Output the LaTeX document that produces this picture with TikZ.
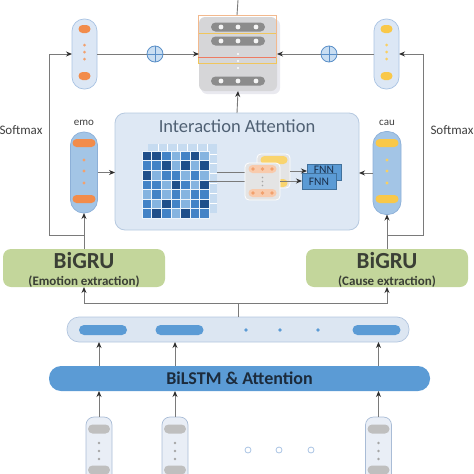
\documentclass[tikz,border=0pt]{standalone}
\usepackage{fontspec}
\setmainfont{Carlito}
\usetikzlibrary{arrows.meta,shapes.misc}
\definecolor{lnc}{HTML}{7A7A7A}
\definecolor{tipc}{HTML}{2E2E2E}
\definecolor{topgray}{HTML}{D6D6D8}
\definecolor{topshadow}{HTML}{E9E9EF}
\definecolor{pillgray}{HTML}{8C8C8C}
\definecolor{orangeline}{HTML}{F2B98E}
\definecolor{redline}{HTML}{EE7B62}
\definecolor{yellowline}{HTML}{F0C65C}
\definecolor{vecfill}{HTML}{DCE7F5}
\definecolor{vecdraw}{HTML}{A9C3E3}
\definecolor{emofill}{HTML}{A3C5E6}
\definecolor{emodraw}{HTML}{8DB0D8}
\definecolor{orng}{HTML}{F28C4B}
\definecolor{orngdot}{HTML}{F2A16E}
\definecolor{yllw}{HTML}{F9C849}
\definecolor{yllwdot}{HTML}{F9CF62}
\definecolor{opfill}{HTML}{C9DEF2}
\definecolor{opdraw}{HTML}{5A8FC8}
\definecolor{iafill}{HTML}{DEE8F4}
\definecolor{iadraw}{HTML}{B6C9E0}
\definecolor{iatext}{HTML}{4F6073}
\definecolor{mc0}{HTML}{85B4E0}
\definecolor{mc1}{HTML}{4383C6}
\definecolor{mc2}{HTML}{1F4F8A}
\definecolor{mback}{HTML}{C6DBF0}
\definecolor{cardfill}{HTML}{E4E4E4}
\definecolor{pale}{HTML}{F8CBAD}
\definecolor{paledot}{HTML}{F2A06C}
\definecolor{paley}{HTML}{F9D46E}
\definecolor{fnnfill}{HTML}{5B9BD5}
\definecolor{fnndraw}{HTML}{41719C}
\definecolor{fnntext}{HTML}{1B2F4A}
\definecolor{green}{HTML}{C3D69B}
\definecolor{gtext}{HTML}{3A3F35}
\definecolor{wrfill}{HTML}{DCE6F2}
\definecolor{wrdraw}{HTML}{B3C6DF}
\definecolor{blue}{HTML}{5B9BD5}
\definecolor{bltext}{HTML}{1C2B3C}
\definecolor{bfill}{HTML}{E9EEF6}
\definecolor{bdraw}{HTML}{A9BCD6}
\definecolor{bpill}{HTML}{BFBFBF}
\definecolor{bdot}{HTML}{A6A6A6}
\definecolor{labc}{HTML}{404040}
\tikzset{
  ln/.style={draw=lnc, line width=0.9pt},
  arr/.style={ln, -{Stealth[length=6pt,width=5pt,color=tipc]}},
  box/.style={inner sep=0pt, outer sep=0pt},
  pill/.style={rounded rectangle, inner sep=0pt, outer sep=0pt},
  lbl/.style={text=labc, font=\fontsize{13}{15}\selectfont},
  fnnbox/.style={box, fill=fnnfill, draw=fnndraw, line width=0.5pt, minimum width=34pt, minimum height=16pt},
  fnnlbl/.style={text=fnntext, font=\fontsize{11.5}{12}\selectfont, inner sep=0pt},
}
\begin{document}
\begin{tikzpicture}[x=1pt,y=-1pt]
\useasboundingbox (0,0) rectangle (474,474);
\clip (0,0) rectangle (474,474);

% ---------- top combination box ----------
\fill[topshadow, rounded corners=6pt] (201,19) rectangle (280,94);
\node[box, fill=topgray, rounded corners=6pt, minimum width=78pt, minimum height=74pt] (top) at (238,54) {};
\foreach \y/\n in {27/a,41/b,81/c}{
  \node[pill, fill=pillgray, minimum width=54pt, minimum height=9pt] (tp\n) at (238,\y) {};
  \foreach \x in {221,238,256} \fill[white!92!gray] (\x,\y) circle (2.4pt);
}
\foreach \y in {54,61,68} \fill[white] (238,\y) circle (1.2pt);
\node[box, draw=yellowline, line width=0.8pt, minimum width=78pt, minimum height=30pt] (yrect) at (237,48) {};
\node[box, draw=orangeline, line width=0.8pt, minimum width=78pt, minimum height=42pt] (orect) at (237,36) {};
\draw[redline, line width=0.8pt] (orect.south west) -- (orect.south east);
\coordinate (topout) at (238,0);
\draw[ln] (topout) -- (orect.north);

% ---------- top vectors ----------
\node[box, fill=vecfill, draw=vecdraw, line width=0.7pt, rounded corners=12pt, minimum width=25pt, minimum height=70pt] (lvec) at (84.5,54) {};
\node[pill, fill=orng, minimum width=12pt, minimum height=8pt] (lvt) at (84.5,29) {};
\node[pill, fill=orng, minimum width=12pt, minimum height=8pt] (lvb) at (84.5,76) {};
\foreach \y in {45,52,59} \fill[orngdot] (84.5,\y) circle (1.5pt);

\node[box, fill=vecfill, draw=vecdraw, line width=0.7pt, rounded corners=12pt, minimum width=25pt, minimum height=70pt] (rvec) at (386.5,54) {};
\node[pill, fill=yllw, minimum width=12pt, minimum height=8pt] (rvt) at (386.5,29) {};
\node[pill, fill=yllw, minimum width=12pt, minimum height=8pt] (rvb) at (386.5,76) {};
\foreach \y in {45,52,59} \fill[yllwdot] (386.5,\y) circle (1.5pt);

% ---------- oplus ----------
\node[circle, inner sep=0pt, minimum size=16pt, fill=opfill, draw=opdraw, line width=0.8pt] (opl) at (155,54) {};
\draw[opdraw, line width=0.8pt] (opl.north) -- (opl.south) (opl.west) -- (opl.east);
\node[circle, inner sep=0pt, minimum size=16pt, fill=opfill, draw=opdraw, line width=0.8pt] (opr) at (329,54) {};
\draw[opdraw, line width=0.8pt] (opr.north) -- (opr.south) (opr.west) -- (opr.east);

\draw[ln] (lvec.east) -- (opl.west);
\draw[arr] (opl.east) -- (top.west);
\draw[ln] (rvec.west) -- (opr.east);
\draw[arr] (opr.west) -- (top.east);

% ---------- emo / cau vectors ----------
\node[text=labc, font=\fontsize{11}{12}\selectfont] (emolbl) at (84,123) {emo};
\node[box, fill=emofill, draw=emodraw, line width=0.7pt, rounded corners=13pt, minimum width=27pt, minimum height=81pt] (evec) at (84,172.5) {};
\node[pill, fill=orng, minimum width=23pt, minimum height=8pt] (evt) at (84,143) {};
\node[pill, fill=orng, minimum width=23pt, minimum height=8pt] (evb) at (84,199) {};
\foreach \y in {160,171,183} \fill[orngdot] (84,\y) circle (1.6pt);

\node[text=labc, font=\fontsize{11}{12}\selectfont] (caulbl) at (387,123) {cau};
\node[box, fill=emofill, draw=emodraw, line width=0.7pt, rounded corners=13pt, minimum width=28pt, minimum height=83pt] (cvec) at (387,173) {};
\node[pill, fill=yllw, minimum width=23pt, minimum height=8pt] (cvt) at (387,143) {};
\node[pill, fill=yllw, minimum width=23pt, minimum height=8pt] (cvb) at (387,199) {};
\foreach \y in {160,171,183} \fill[yllwdot] (387,\y) circle (1.6pt);

% ---------- interaction attention ----------
\node[box, fill=iafill, draw=iadraw, line width=0.8pt, rounded corners=10pt, minimum width=244pt, minimum height=117pt] (ia) at (237,171.5) {};
\node[text=iatext, font=\fontsize{18.5}{20}\selectfont] (iatitle) at (237,126) {Interaction Attention};
\draw[arr] (ia.north) -- (top.south);
\draw[arr] (evec.east) -- (evec.east -| ia.west);
\draw[arr] (cvec.west) -- (cvec.west -| ia.east);

% matrix back layer
\fill[mback] (148,144) rectangle (217,213);
\foreach \i in {1,...,6}{
  \draw[white, line width=0.5pt] ({148+\i*9.857},144) -- ++(0,69);
  \draw[white, line width=0.5pt] (148,{144+\i*9.857}) -- ++(69,0);
}
% matrix front layer
\foreach \r/\rowlist in {0/{2,2,1,0,1,2,0},1/{1,1,2,0,2,0,2},2/{2,0,1,1,0,1,0},3/{1,1,0,2,1,0,2},4/{0,1,0,1,0,1,1},5/{1,0,2,1,0,1,2},6/{1,2,1,0,2,1,1}}{
  \foreach \v [count=\c from 0] in \rowlist {
    \filldraw[fill=mc\v, draw=white!85!mc0, line width=0.4pt] ({142+\c*9.6},{151+\r*9.6}) rectangle ++(9.6,9.6);
  }
}
\coordinate (m1) at (217,172);
\coordinate (m2) at (209,181);

% cards
\node[box, fill=cardfill, draw=white, line width=0.8pt, rounded corners=4pt, minimum width=33pt, minimum height=34pt] (cb) at (273.5,171) {};
\node[pill, fill=paley, minimum width=27pt, minimum height=8pt] (cbt) at (274,160) {};
\node[pill, fill=paley, minimum width=27pt, minimum height=8pt] (cbb) at (274,183) {};
\draw[arr] (m1) -- (m1 -| cb.west);
\draw[arr] (m2) -- (m2 -| cb.west);
\node[box, fill=cardfill, draw=white, line width=0.8pt, rounded corners=4pt, minimum width=35pt, minimum height=37pt] (cf) at (262.5,181.5) {};
\node[pill, fill=pale, minimum width=28pt, minimum height=8pt] (cft) at (262.5,169) {};
\node[pill, fill=pale, minimum width=28pt, minimum height=8pt] (cfb) at (262.5,193) {};
\foreach \y in {169,193}{\foreach \x in {253,262.5,272} \fill[paledot] (\x,\y) circle (1.8pt);}
\foreach \y in {177.5,181.5,185.5} \fill[bdot] (262.5,\y) circle (0.8pt);

% FNN
\node[fnnbox] (fb) at (324,172) {};
\node[fnnlbl] (fbt) at (324,169.5) {FNN};
\draw[arr] (cb.east) -- (cb.east -| fb.west);
\node[fnnbox] (ff) at (319,181) {};
\node[fnnlbl] (fft) at (319,181.5) {FNN};
\draw[arr] (cf.east |- ff.west) -- (ff.west);

% ---------- BiGRU boxes ----------
\node[box, fill=green, rounded corners=8pt, minimum width=162pt, minimum height=38pt] (gl) at (84,268) {};
\node[text=gtext, font=\bfseries\fontsize{23}{24}\selectfont] (gl1) at (84,261) {BiGRU};
\node[text=gtext, font=\bfseries\fontsize{13}{14}\selectfont] (gl2) at (84,282) {(Emotion extraction)};
\node[box, fill=green, rounded corners=8pt, minimum width=162pt, minimum height=38pt] (gr) at (387,268) {};
\node[text=gtext, font=\bfseries\fontsize{23}{24}\selectfont] (gr1) at (387,261) {BiGRU};
\node[text=gtext, font=\bfseries\fontsize{13}{14}\selectfont] (gr2) at (387,282) {(Cause extraction)};

% feedback paths
\draw[arr] (gl.north) -- (evec.south);
\draw[arr] (gr.north) -- (cvec.south);
\coordinate (lb) at (84,235);
\coordinate (lc1) at (49,235);
\coordinate (lc2) at (49,54);
\draw[arr] (lb) -- (lc1) -- (lc2) -- (lvec.west);
\coordinate (rb) at (387,235);
\coordinate (rc1) at (423,235);
\coordinate (rc2) at (423,54);
\draw[arr] (rb) -- (rc1) -- (rc2) -- (rvec.east);
\node[lbl] (sml) at (21,130) {Softmax};
\node[lbl] (smr) at (452,130) {Softmax};

% ---------- word row ----------
\node[box, fill=wrfill, draw=wrdraw, line width=0.7pt, rounded corners=12pt, minimum width=342pt, minimum height=25pt] (wr) at (238,329.5) {};
\node[pill, fill=blue, minimum width=48pt, minimum height=10pt] (w1) at (103,330) {};
\node[pill, fill=blue, minimum width=48pt, minimum height=10pt] (w2) at (179.5,330) {};
\node[pill, fill=blue, minimum width=48pt, minimum height=10pt] (w3) at (376.5,330) {};
\foreach \x in {246,280,318} \fill[blue] (\x,330) circle (1.8pt);
\coordinate (jc) at (238,303);
\draw[ln] (wr.north) -- (jc);
\draw[arr] (jc) -| (gl.south);
\draw[arr] (jc) -| (gr.south);

% ---------- BiLSTM ----------
\node[box, fill=blue, rounded corners=12pt, minimum width=381pt, minimum height=25pt] (bl) at (239.5,378.5) {};
\node[text=bltext, font=\bfseries\fontsize{18}{20}\selectfont] (bltxt) at (239.5,378.5) {BiLSTM \& Attention};

% ---------- bottom vectors ----------
\foreach \n/\x in {b1/99,b2/175,b3/378.5}{
  \node[box, fill=bfill, draw=bdraw, line width=0.7pt, rounded corners=8pt, minimum width=26pt, minimum height=80pt] (\n) at (\x,457) {};
  \node[pill, fill=bpill, minimum width=22pt, minimum height=9pt] (\n t) at (\x,429) {};
  \node[pill, fill=bpill, minimum width=22pt, minimum height=9pt] (\n b) at (\x,470) {};
  \foreach \y in {443,451,459} \fill[bdot] (\x,\y) circle (1.3pt);
  \draw[arr] (\n.north) -- (\n.north |- bl.south);
  \draw[arr] (\n.north |- bl.north) -- (\n.north |- wr.south);
}
\foreach \n/\x in {e1/248,e2/279,e3/311}
  \node[circle, draw=vecdraw, line width=0.8pt, minimum size=6pt, inner sep=0pt] (\n) at (\x,450) {};
\end{tikzpicture}
\end{document}
